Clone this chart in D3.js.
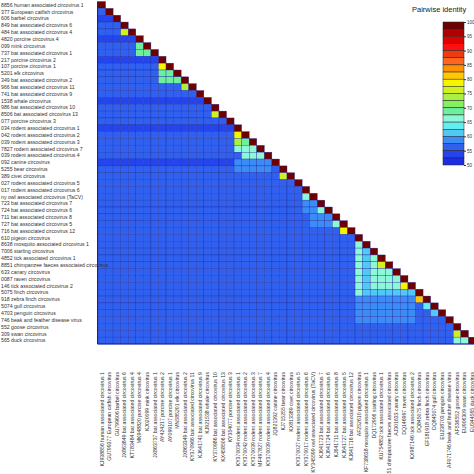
<!DOCTYPE html>
<html><head><meta charset="utf-8">
<script src="https://cdn.jsdelivr.net/npm/d3@7"></script>
<style>body{margin:0;background:#fff}svg{display:block;font-family:"Liberation Sans",Arial,sans-serif}</style>
</head><body><svg id="c" width="474" height="474"></svg>
<script>
const accessions=["KJ938856","GU799377","GU799606","JX863849","KT783484","MK948820","KJ020099","JX863737","AY424217","AY099107","MN585201","JX863349","KY370966","KJ641741","KJ921538","KY370986","KX458506","KY354077","KY370034","KY370042","KY370039","MF497827","KY370039","JQ821392","KJ715255","KX813389","KY370027","KY370017","KY345599","KJ641723","KJ641724","KJ641711","KJ641727","KJ641716","AF252610","KF738638","DQ172906","KU754852","GQ404851","AJ301633","DQ146997","KX987146","DQ845075","EF181918","DQ845074","EU238703","AF071746","AF536552","EU906309","EU344565"];
const leftIds=["8856","377","606","849","484","4820","099","737","217","107","5201","349","966","741","1538","986","8506","077","034","042","039","7827","039","092","5255","389","027","017","ny","723","724","711","727","716","610","8638","7006","4852","8851","633","0087","146","5075","918","5074","4703","746","552","309","565"];
const names=["human associated circovirus 1","European catfish circovirus","barbel circovirus","bat associated circovirus 6","bat associated circovirus 4","porcine circovirus 4","mink circovirus","bat associated circovirus 1","porcine circovirus 2","porcine circovirus 1","elk circovirus","bat associated circovirus 2","bat associated circovirus 11","bat associated circovirus 9","whale circovirus","bat associated circovirus 10","bat associated circovirus 13","porcine circovirus 3","rodent associated circovirus 1","rodent associated circovirus 2","rodent associated circovirus 3","rodent associated circovirus 7","rodent associated circovirus 4","canine circovirus","bear circovirus","civet circovirus","rodent associated circovirus 5","rodent associated circovirus 6","owl associated circovirus (TaCV)","bat associated circovirus 7","bat associated circovirus 6","bat associated circovirus 8","bat associated circovirus 5","bat associated circovirus 12","pigeon circovirus","mosquito associated circovirus 1","starling circovirus","tick associated circovirus 1","chimpanzee faeces associated circovirus","canary circovirus","raven circovirus","tick associated circovirus 2","finch circovirus","zebra finch circovirus","gull circovirus","penguin circovirus","beak and feather disease virus","goose circovirus","swan circovirus","duck circovirus"];
const rowBase=[100,55,54,55,55,54,55,55,54,55,55,55,56,55,54,55,55,55,54,55,56,55,55,54,55,55,56,55,55,55,55,56,55,55,55,56,55,55,56,55,55,56,55,55,56,55,56,55,56,56];
// [rowStart,rowEnd,colStart,colEnd,identity]
const blocks=[[34,49,34,49,56],[4,4,3,3,76],[6,6,5,5,68],[7,7,5,6,68],[9,9,8,8,78],[10,11,8,9,68],[11,11,10,10,68],[12,12,11,11,74],[16,16,15,15,76],[19,19,18,18,79],[20,20,18,18,74],[20,20,19,19,68],[21,21,18,20,67],[22,22,19,21,66],[23,24,18,22,59],[25,25,24,24,75],[28,28,27,27,66],[29,30,27,29,59],[30,30,29,29,66],[31,32,28,31,59],[32,32,31,31,67],[33,33,32,32,78],[35,44,34,34,66],[36,42,35,41,62],[37,41,36,40,67],[38,38,37,37,76],[41,41,40,40,78],[43,43,42,42,80],[43,46,34,41,59],[44,44,43,43,64],[45,45,44,44,61],[48,48,47,47,76],[49,49,47,48,67]];
const legendTicks=[100,95,90,85,80,75,70,65,60,55,50];
const binColors=["#6e0000","#b00000","#e00000","#ff1010","#f03a10","#ff6420","#ff9000","#ffc800","#f5f500","#d2f020","#aaf040","#84f060","#6cf0a0","#8cf8d8","#60f0f0","#50c8f8","#3c8cf8","#3060f0","#2444ee","#1c2ce0"];

const n=names.length;
const M=[];
for(let i=0;i<n;i++){for(let j=0;j<=i;j++){M.push({i,j,v:i===j?100:rowBase[i]});}}
blocks.forEach(([r0,r1,c0,c1,v])=>{M.forEach(d=>{if(d.i!==d.j&&d.i>=r0&&d.i<=r1&&d.j>=c0&&d.j<=c1)d.v=v;});});

const svg=d3.select("#c");
const x=d3.scaleBand().domain(d3.range(n)).range([98,476]);
const y=d3.scaleBand().domain(d3.range(n)).range([1.5,344]);
const color=d3.scaleQuantize().domain([50,100]).range(binColors.slice().reverse());
svg.append("g").selectAll("rect").data(M).join("rect")
 .attr("x",d=>x(d.j)).attr("y",d=>y(d.i)).attr("width",x.bandwidth()).attr("height",y.bandwidth())
 .attr("fill",d=>color(d.v)).attr("stroke","#1a2a9a").attr("stroke-width",0.35);
svg.append("line").attr("x1",97.5).attr("x2",97.5).attr("y1",1.5).attr("y2",344).attr("stroke","#1020a0").attr("stroke-width",1);
svg.append("line").attr("x1",97.5).attr("x2",476).attr("y1",344).attr("y2",344).attr("stroke","#1020a0").attr("stroke-width",1);

svg.append("g").selectAll("text").data(names).join("text")
 .attr("x",1).attr("y",(d,i)=>y(i)+y.bandwidth()/2+1.8).attr("font-size",5.2).attr("fill","#333")
 .text((d,i)=>leftIds[i]+" "+d);
svg.append("g").selectAll("text").data(names).join("text")
 .attr("transform",(d,i)=>`translate(${x(i)+x.bandwidth()/2+1.8},372) rotate(-90)`)
 .attr("text-anchor","end").attr("font-size",5.2).attr("fill","#333")
 .text((d,i)=>accessions[i]+" "+d);

// legend
const ly=d3.scaleLinear().domain([100,50]).range([22,165]);
const lg=svg.append("g");
lg.selectAll("rect").data(binColors).join("rect")
 .attr("x",443).attr("width",21).attr("y",(d,k)=>ly(100-2.5*k)).attr("height",ly(97.5)-ly(100))
 .attr("fill",d=>d).attr("stroke","#222").attr("stroke-width",0.5);
lg.append("g").attr("transform","translate(464,0)").call(d3.axisRight(ly).tickValues(legendTicks).tickSize(2).tickPadding(1))
 .call(g=>{g.select(".domain").remove();g.selectAll("text").attr("font-size",4.5).attr("fill","#333");g.selectAll("line").attr("stroke","#333");});
svg.append("text").attr("x",412).attr("y",12).attr("font-size",7.5).attr("fill","#222").text("Pairwise identity");
</script></body></html>
